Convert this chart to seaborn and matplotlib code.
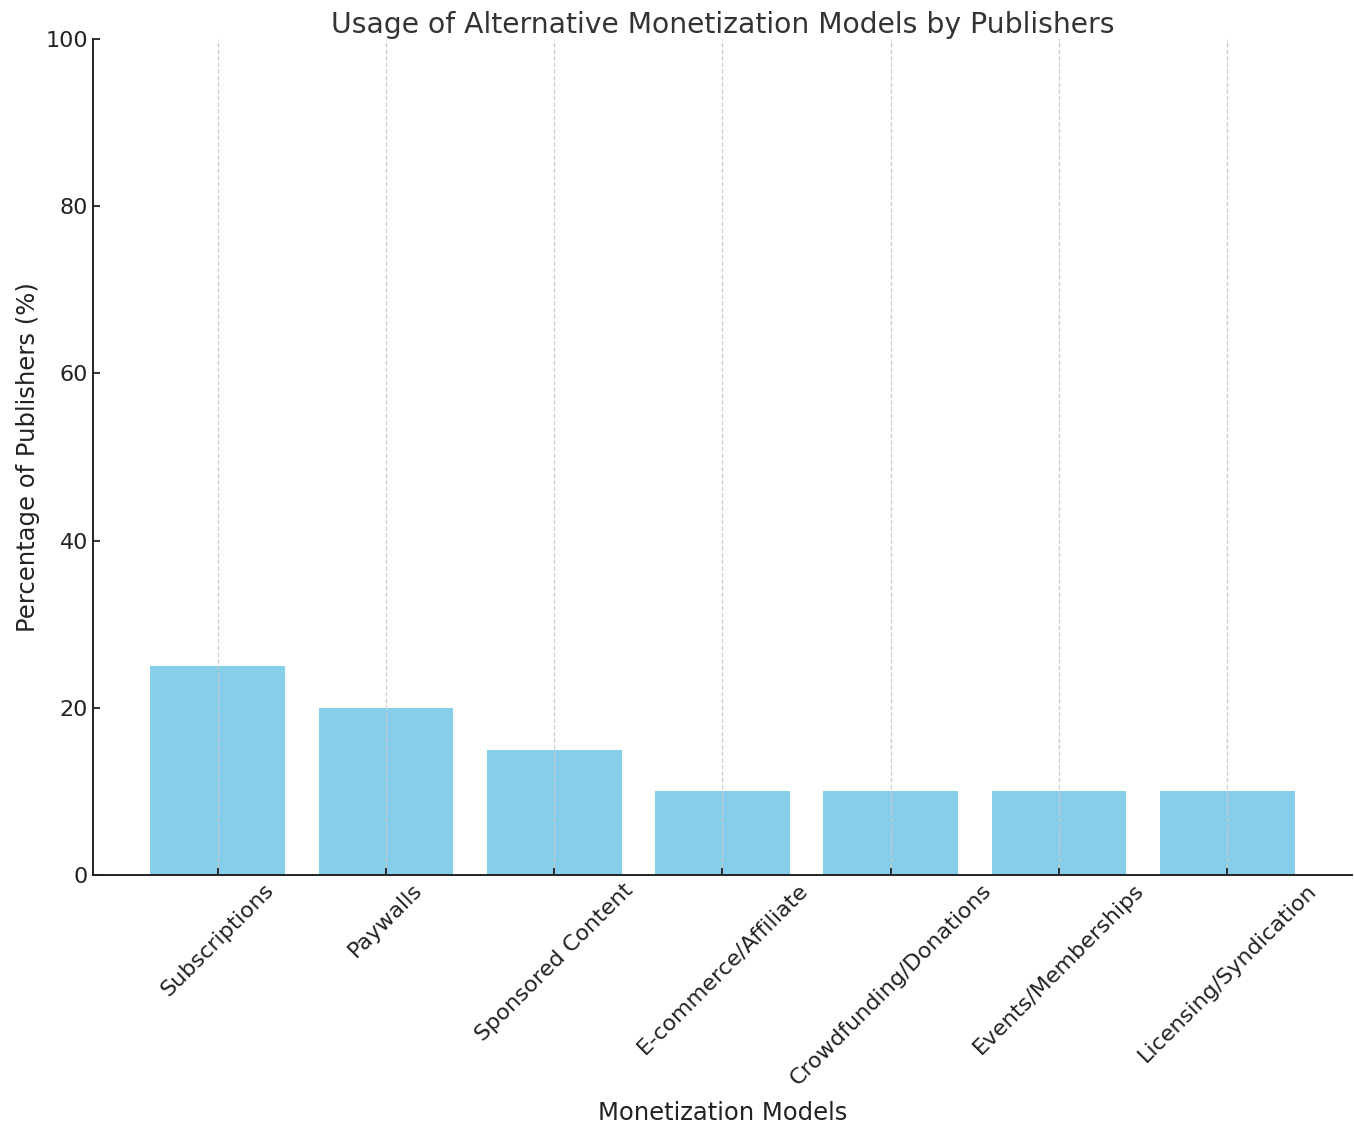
import matplotlib
matplotlib.use("Agg")
import matplotlib.pyplot as plt
import pandas as pd
import seaborn as sns

# data
models = [
    "Subscriptions",
    "Paywalls",
    "Sponsored Content",
    "E-commerce/Affiliate",
    "Crowdfunding/Donations",
    "Events/Memberships",
    "Licensing/Syndication",
]
percentages = [25, 20, 15, 10, 10, 10, 10]

df = pd.DataFrame({"model": models, "pct": percentages})

sns.set_style("ticks")
plt.rcParams["font.family"] = ["DejaVu Sans"]

fig = plt.figure(figsize=(13.54, 11.3), dpi=100)
ax = fig.add_axes([0.0687, 0.2257, 0.9298, 0.7398])

sns.barplot(data=df, x="model", y="pct", color="skyblue", saturation=1,
            width=0.8, linewidth=0, ax=ax)

# matplotlib default margins instead of seaborn's tight categorical limits
ax.set_xlim(-0.74, len(models) - 1 + 0.74)
ax.set_ylim(0, 100)
ax.set_title("Usage of Alternative Monetization Models by Publishers",
             fontsize=20.3, color="#333333", pad=4)
ax.set_xlabel("Monetization Models", fontsize=17.5, color="#222222", labelpad=9)
ax.set_ylabel("Percentage of Publishers (%)", fontsize=17.5, color="#222222", labelpad=4)
ax.tick_params(axis="both", direction="in", labelsize=16, colors="#222222",
               length=5, width=1.3)
plt.setp(ax.get_xticklabels(), rotation=45, ha="center")
ax.grid(axis="x", linestyle="--", color="#cccccc", linewidth=0.9)
ax.set_axisbelow(False)
for side in ["left", "bottom"]:
    ax.spines[side].set_linewidth(1.4)
    ax.spines[side].set_color("#222222")
sns.despine(ax=ax)

fig.savefig("out.png", dpi=100)
